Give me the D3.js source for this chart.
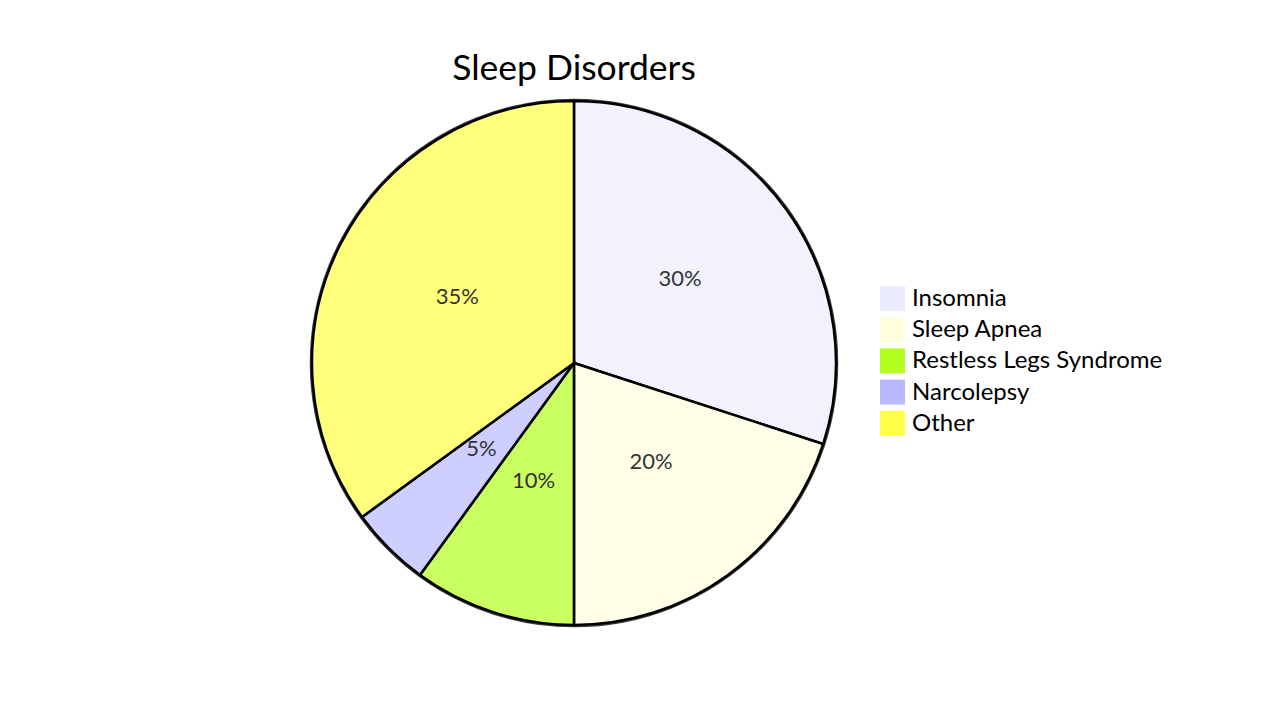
<!DOCTYPE html>
<html>
<head>
<meta charset="utf-8">
<script src="https://cdn.jsdelivr.net/npm/d3@7"></script>
<style>
  html, body { margin: 0; padding: 0; background: #fff; }
  svg { display: block; font-family: "trebuchet ms", Lato, "Liberation Sans", Arial, sans-serif; }
</style>
</head>
<body>
<div id="chart"></div>
<script>
// Data
const chartTitle = "Sleep Disorders";
const labels = ["Insomnia", "Sleep Apnea", "Restless Legs Syndrome", "Narcolepsy", "Other"];
const values = [30, 20, 10, 5, 35];
const colors = ["#ECECFF", "#ffffde", "#b3ff20", "#b9b9ff", "#ffff45"];

const width = 1280, height = 720;
const cx = 574, cy = 363, radius = 262;

const svg = d3.select("#chart").append("svg")
  .attr("width", width)
  .attr("height", height);

const g = svg.append("g").attr("transform", `translate(${cx},${cy})`);

const color = d3.scaleOrdinal().domain(labels).range(colors);

// keep input order, start at 12 o'clock going clockwise
const pie = d3.pie().sort(null).value(d => d.value);
const arcs = pie(labels.map((l, i) => ({ label: l, value: values[i] })));
const total = d3.sum(values);

const arc = d3.arc().innerRadius(0).outerRadius(radius);

// outer ring
g.append("circle")
  .attr("r", radius + 1)
  .attr("fill", "none")
  .attr("stroke", "#3a3a3a")
  .attr("stroke-width", 2.5);

g.selectAll("path.slice")
  .data(arcs)
  .enter().append("path")
  .attr("class", "slice")
  .attr("d", arc)
  .attr("fill", d => color(d.data.label))
  .attr("fill-opacity", 0.7)
  .attr("stroke", "#000")
  .attr("stroke-width", 2.5);

// percentage labels, baseline on the arc centroid
g.selectAll("text.pct")
  .data(arcs)
  .enter().append("text")
  .attr("class", "pct")
  .attr("transform", d => `translate(${arc.centroid(d)})`)
  .attr("text-anchor", "middle")
  .style("font-size", "22px")
  .style("fill", "#333")
  .text(d => Math.round(d.data.value / total * 100) + "%");

// title
svg.append("text")
  .attr("x", cx)
  .attr("y", 80)
  .attr("text-anchor", "middle")
  .style("font-size", "35.5px")
  .style("fill", "#000")
  .text(chartTitle);

// legend
const rectSize = 25, step = 31.2;
const legend = svg.append("g")
  .attr("transform", `translate(880,${cy - step * labels.length / 2 + 1})`);

const item = legend.selectAll("g")
  .data(labels)
  .enter().append("g")
  .attr("transform", (d, i) => `translate(0,${i * step})`);

item.append("rect")
  .attr("width", rectSize)
  .attr("height", rectSize)
  .attr("fill", d => color(d));

item.append("text")
  .attr("x", 32)
  .attr("y", 20)
  .style("font-size", "24px")
  .style("fill", "#000")
  .text(d => d);
</script>
</body>
</html>
